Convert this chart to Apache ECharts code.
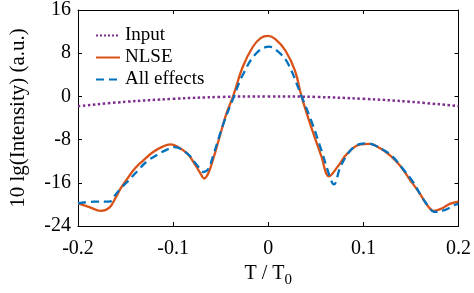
<!DOCTYPE html>
<html>
<head>
<meta charset="utf-8">
<script src="https://cdn.jsdelivr.net/npm/echarts@6/dist/echarts.min.js"></script>
<style>
  html, body { margin: 0; padding: 0; background: #fff; }
  #chart { width: 474px; height: 293px; }
</style>
</head>
<body>
<div id="chart"></div>
<script>
// T / T0 positions and 10 lg(Intensity) values
const inputT  = [-0.2, -0.15, -0.1, -0.05, 0, 0.05, 0.1, 0.15, 0.2];
const inputDb = [-1.8, -1.0, -0.45, -0.1, 0, -0.1, -0.45, -1.0, -1.8];

const nlseT  = [-0.2, -0.188, -0.176, -0.167, -0.1605, -0.155, -0.148, -0.14, -0.131, -0.121, -0.111, -0.103, -0.0956,
                -0.085, -0.0767, -0.0715, -0.0673, -0.0629, -0.0577, -0.0526, -0.044, -0.037, -0.027, -0.0165, -0.008,
                0, 0.0075, 0.018, 0.028, 0.035, 0.045, 0.0557, 0.064, 0.073, 0.083, 0.097, 0.107, 0.1175, 0.128,
                0.138, 0.148, 0.159, 0.167, 0.174, 0.183, 0.191, 0.2];
const nlseDb = [-19.8, -20.5, -21.2, -20.6, -18.8, -17.0, -15.2, -13.3, -11.8, -10.3, -9.3, -8.9, -9.3,
                -10.6, -12.7, -14.2, -15.2, -14.2, -11.5, -8.4, -3.2, 0, 5.4, 9.1, 10.8,
                11.2, 10.6, 8.5, 4.8, 0, -5.6, -11.0, -14.8, -13.0, -10.6, -8.9, -8.8, -9.6, -10.9,
                -12.7, -15.2, -17.9, -20.1, -21.2, -20.7, -19.9, -19.5];

const allT  = [-0.2, -0.183, -0.167, -0.162, -0.155, -0.148, -0.138, -0.128, -0.1175, -0.107, -0.0987, -0.085,
               -0.075, -0.068, -0.063, -0.058, -0.047, -0.036, -0.027, -0.013, 0.001, 0.011, 0.021, 0.035, 0.045,
               0.0557, 0.066, 0.069, 0.076, 0.087, 0.097, 0.104, 0.111, 0.121, 0.131, 0.141, 0.152, 0.162, 0.17,
               0.174, 0.186, 0.196, 0.2];
const allDb = [-19.8, -19.5, -19.5, -18.5, -17.0, -15.8, -13.9, -12.1, -10.9, -9.9, -9.4, -10.6,
               -12.7, -14.0, -13.4, -11.0, -5.0, 0, 3.9, 7.9, 9.2, 8.2, 6.0, 0, -4.4,
               -9.9, -15.5, -16.3, -13.0, -9.9, -8.8, -8.7, -9.0, -9.9, -11.2, -13.3, -15.8, -18.8, -20.7,
               -21.4, -21.0, -20.1, -19.9];

const pairs = (xs, ys) => xs.map((x, i) => [x, ys[i]]);

const font = '"Liberation Serif", "Times New Roman", serif';
const chart = echarts.init(document.getElementById('chart'), null, { renderer: 'canvas' });

const axisCommon = {
  axisLine: { show: true, onZero: false, lineStyle: { color: '#000', width: 1 } },
  axisTick: { show: true, inside: true, length: 4, lineStyle: { color: '#000' } },
  splitLine: { show: false }
};

chart.setOption({
  animation: false,
  backgroundColor: '#fff',
  grid: { left: 72, right: 14, top: 9, bottom: 67 },
  legend: {
    orient: 'vertical',
    left: 90,
    top: 21,
    itemWidth: 24,
    itemHeight: 14,
    itemGap: 3,
    itemStyle: { opacity: 0 },
    textStyle: { fontFamily: font, fontSize: 19, color: '#000' },
    data: ['Input', 'NLSE', 'All effects']
  },
  xAxis: [
    Object.assign({}, axisCommon, {
      type: 'value', min: -0.2, max: 0.2, interval: 0.1,
      axisLabel: { fontFamily: font, fontSize: 20, color: '#000', margin: 13 },
      name: 'T / T{sub|0}',
      nameLocation: 'middle',
      nameGap: 19,
      nameTextStyle: {
        fontFamily: font, fontSize: 20, color: '#000',
        rich: { sub: { fontFamily: font, fontSize: 15, color: '#000', verticalAlign: 'bottom', padding: [12, 0, 0, 0] } }
      }
    }),
    Object.assign({}, axisCommon, {
      type: 'value', min: -0.2, max: 0.2, interval: 0.1, position: 'top',
      axisLabel: { show: false }
    })
  ],
  yAxis: [
    Object.assign({}, axisCommon, {
      type: 'value', min: -24, max: 16, interval: 8,
      axisLabel: { fontFamily: font, fontSize: 20, color: '#000', margin: 7 },
      name: '10 lg(Intensity) (a.u.)',
      nameLocation: 'middle',
      nameGap: 49,
      nameTextStyle: { fontFamily: font, fontSize: 21, color: '#000' }
    }),
    Object.assign({}, axisCommon, {
      type: 'value', min: -24, max: 16, interval: 8, position: 'right',
      axisLabel: { show: false }
    })
  ],
  series: [
    {
      name: 'Input', type: 'line', data: pairs(inputT, inputDb),
      smooth: 0.4, showSymbol: false, symbol: 'none',
      lineStyle: { color: '#7E2F8E', width: 2.5, type: 'dotted' },
      itemStyle: { color: '#7E2F8E' }
    },
    {
      name: 'NLSE', type: 'line', data: pairs(nlseT, nlseDb),
      smooth: 0.4, showSymbol: false, symbol: 'none',
      lineStyle: { color: '#D95319', width: 2.3 },
      itemStyle: { color: '#D95319' }
    },
    {
      name: 'All effects', type: 'line', data: pairs(allT, allDb),
      smooth: 0.4, showSymbol: false, symbol: 'none',
      lineStyle: { color: '#0072BD', width: 2.3, type: [8, 5] },
      itemStyle: { color: '#0072BD' }
    }
  ]
});
</script>
</body>
</html>
